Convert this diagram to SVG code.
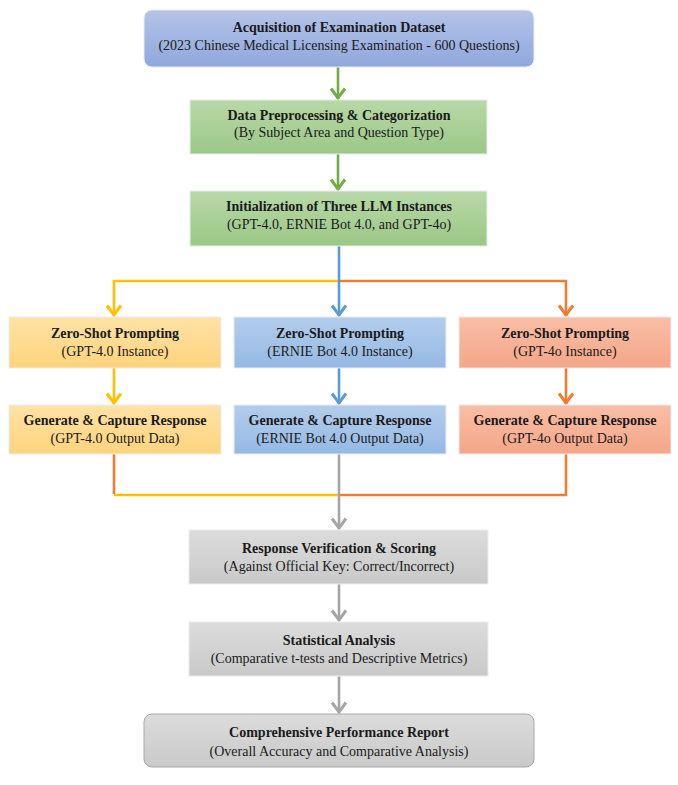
<svg xmlns="http://www.w3.org/2000/svg" width="678" height="785" viewBox="0 0 678 785">
<defs>
<linearGradient id="gBlue" x1="0" y1="0" x2="0" y2="1"><stop offset="0" stop-color="#b5c4e8"/><stop offset="1" stop-color="#8fa7dc"/></linearGradient>
<linearGradient id="gGreen" x1="0" y1="0" x2="0" y2="1"><stop offset="0" stop-color="#b8d9a7"/><stop offset="1" stop-color="#9bc787"/></linearGradient>
<linearGradient id="gYel" x1="0" y1="0" x2="0" y2="1"><stop offset="0" stop-color="#ffe2a6"/><stop offset="1" stop-color="#fed47c"/></linearGradient>
<linearGradient id="gMid" x1="0" y1="0" x2="0" y2="1"><stop offset="0" stop-color="#b3cdec"/><stop offset="1" stop-color="#95b9e3"/></linearGradient>
<linearGradient id="gOra" x1="0" y1="0" x2="0" y2="1"><stop offset="0" stop-color="#f9bea6"/><stop offset="1" stop-color="#f4a688"/></linearGradient>
<linearGradient id="gGray" x1="0" y1="0" x2="0" y2="1"><stop offset="0" stop-color="#dcdcdc"/><stop offset="1" stop-color="#c9c9c9"/></linearGradient>
<marker id="aGreen" viewBox="0 0 18 14" refX="9" refY="12.5" markerWidth="18" markerHeight="14" markerUnits="userSpaceOnUse" overflow="visible"><path d="M2 2 L9 11.5 L16 2" fill="none" stroke="#70ad47" stroke-width="3"/></marker>
<marker id="aBlue" viewBox="0 0 18 14" refX="9" refY="12.5" markerWidth="18" markerHeight="14" markerUnits="userSpaceOnUse" overflow="visible"><path d="M2 2 L9 11.5 L16 2" fill="none" stroke="#5b9bd5" stroke-width="3"/></marker>
<marker id="aYel" viewBox="0 0 18 14" refX="9" refY="12.5" markerWidth="18" markerHeight="14" markerUnits="userSpaceOnUse" overflow="visible"><path d="M2 2 L9 11.5 L16 2" fill="none" stroke="#ffc000" stroke-width="3"/></marker>
<marker id="aOra" viewBox="0 0 18 14" refX="9" refY="12.5" markerWidth="18" markerHeight="14" markerUnits="userSpaceOnUse" overflow="visible"><path d="M2 2 L9 11.5 L16 2" fill="none" stroke="#ed7d31" stroke-width="3"/></marker>
<marker id="aGray" viewBox="0 0 18 14" refX="9" refY="12.5" markerWidth="18" markerHeight="14" markerUnits="userSpaceOnUse" overflow="visible"><path d="M2 2 L9 11.5 L16 2" fill="none" stroke="#a5a5a5" stroke-width="3"/></marker>
<style>
.box{stroke:#e8ecf4;stroke-width:1}
.t{font-family:"Liberation Serif","Times New Roman",serif;font-size:14px;font-weight:bold;fill:#1a1a1a;text-anchor:middle}
.s{font-family:"Liberation Serif","Times New Roman",serif;font-size:14px;fill:#1a1a1a;text-anchor:middle}
.ln{fill:none;stroke-width:2.6}
</style>
</defs>
<g id="connectors">
<line class="ln" stroke="#70ad47" x1="338" y1="67" x2="338" y2="99" marker-end="url(#aGreen)"/>
<line class="ln" stroke="#70ad47" x1="338" y1="154" x2="338" y2="190" marker-end="url(#aGreen)"/>
<polyline class="ln" stroke="#ffc000" points="339,281 114,281 114,316" marker-end="url(#aYel)"/>
<polyline class="ln" stroke="#ed7d31" points="339,281 566,281 566,316" marker-end="url(#aOra)"/>
<line class="ln" stroke="#5b9bd5" x1="339" y1="246" x2="339" y2="316" marker-end="url(#aBlue)"/>
<line class="ln" stroke="#ffc000" x1="114" y1="368" x2="114" y2="404" marker-end="url(#aYel)"/>
<line class="ln" stroke="#5b9bd5" x1="339" y1="368" x2="339" y2="404" marker-end="url(#aBlue)"/>
<line class="ln" stroke="#ed7d31" x1="566" y1="368" x2="566" y2="404" marker-end="url(#aOra)"/>
<polyline class="ln" stroke="#ed7d31" points="114,454 114,494"/>
<line class="ln" stroke="#ffc000" x1="114" y1="495" x2="339" y2="495"/>
<polyline class="ln" stroke="#ed7d31" points="339,495 566,495 566,454"/>
<line class="ln" stroke="#a5a5a5" x1="339" y1="454" x2="339" y2="529" marker-end="url(#aGray)"/>
<line class="ln" stroke="#a5a5a5" x1="339" y1="584" x2="339" y2="621" marker-end="url(#aGray)"/>
<line class="ln" stroke="#a5a5a5" x1="339" y1="676" x2="339" y2="713" marker-end="url(#aGray)"/>
</g>
<g id="n1"><rect class="box" x="144" y="10" width="390" height="57" rx="8" fill="url(#gBlue)"/><text class="t" x="339" y="32">Acquisition of Examination Dataset</text><text class="s" x="339" y="50">(2023 Chinese Medical Licensing Examination - 600 Questions)</text></g>
<g id="n2"><rect class="box" x="190" y="100" width="297" height="54" fill="url(#gGreen)"/><text class="t" x="339" y="120">Data Preprocessing &amp; Categorization</text><text class="s" x="339" y="137">(By Subject Area and Question Type)</text></g>
<g id="n3"><rect class="box" x="190" y="191" width="297" height="55" fill="url(#gGreen)"/><text class="t" x="339" y="211">Initialization of Three LLM Instances</text><text class="s" x="339" y="229">(GPT-4.0, ERNIE Bot 4.0, and GPT-4o)</text></g>
<g id="n4a"><rect class="box" x="9" y="317" width="212" height="51" fill="url(#gYel)"/><text class="t" x="115" y="338">Zero-Shot Prompting</text><text class="s" x="115" y="356">(GPT-4.0 Instance)</text></g>
<g id="n4b"><rect class="box" x="234" y="317" width="212" height="51" fill="url(#gMid)"/><text class="t" x="340" y="338">Zero-Shot Prompting</text><text class="s" x="340" y="356">(ERNIE Bot 4.0 Instance)</text></g>
<g id="n4c"><rect class="box" x="459" y="317" width="212" height="51" fill="url(#gOra)"/><text class="t" x="565" y="338">Zero-Shot Prompting</text><text class="s" x="565" y="356">(GPT-4o Instance)</text></g>
<g id="n5a"><rect class="box" x="9" y="405" width="212" height="49" fill="url(#gYel)"/><text class="t" x="115" y="425">Generate &amp; Capture Response</text><text class="s" x="115" y="443">(GPT-4.0 Output Data)</text></g>
<g id="n5b"><rect class="box" x="234" y="405" width="212" height="49" fill="url(#gMid)"/><text class="t" x="340" y="425">Generate &amp; Capture Response</text><text class="s" x="340" y="443">(ERNIE Bot 4.0 Output Data)</text></g>
<g id="n5c"><rect class="box" x="459" y="405" width="212" height="49" fill="url(#gOra)"/><text class="t" x="565" y="425">Generate &amp; Capture Response</text><text class="s" x="565" y="443">(GPT-4o Output Data)</text></g>
<g id="n6"><rect class="box" x="189" y="530" width="299" height="54" fill="url(#gGray)"/><text class="t" x="339" y="553">Response Verification &amp; Scoring</text><text class="s" x="339" y="571">(Against Official Key: Correct/Incorrect)</text></g>
<g id="n7"><rect class="box" x="189" y="622" width="299" height="54" fill="url(#gGray)"/><text class="t" x="339" y="645">Statistical Analysis</text><text class="s" x="339" y="663">(Comparative t-tests and Descriptive Metrics)</text></g>
<g id="n8"><rect x="144" y="714" width="390" height="53" rx="8" fill="url(#gGray)" stroke="#a8a8a8" stroke-width="1"/><text class="t" x="339" y="737">Comprehensive Performance Report</text><text class="s" x="339" y="756">(Overall Accuracy and Comparative Analysis)</text></g>
</svg>
